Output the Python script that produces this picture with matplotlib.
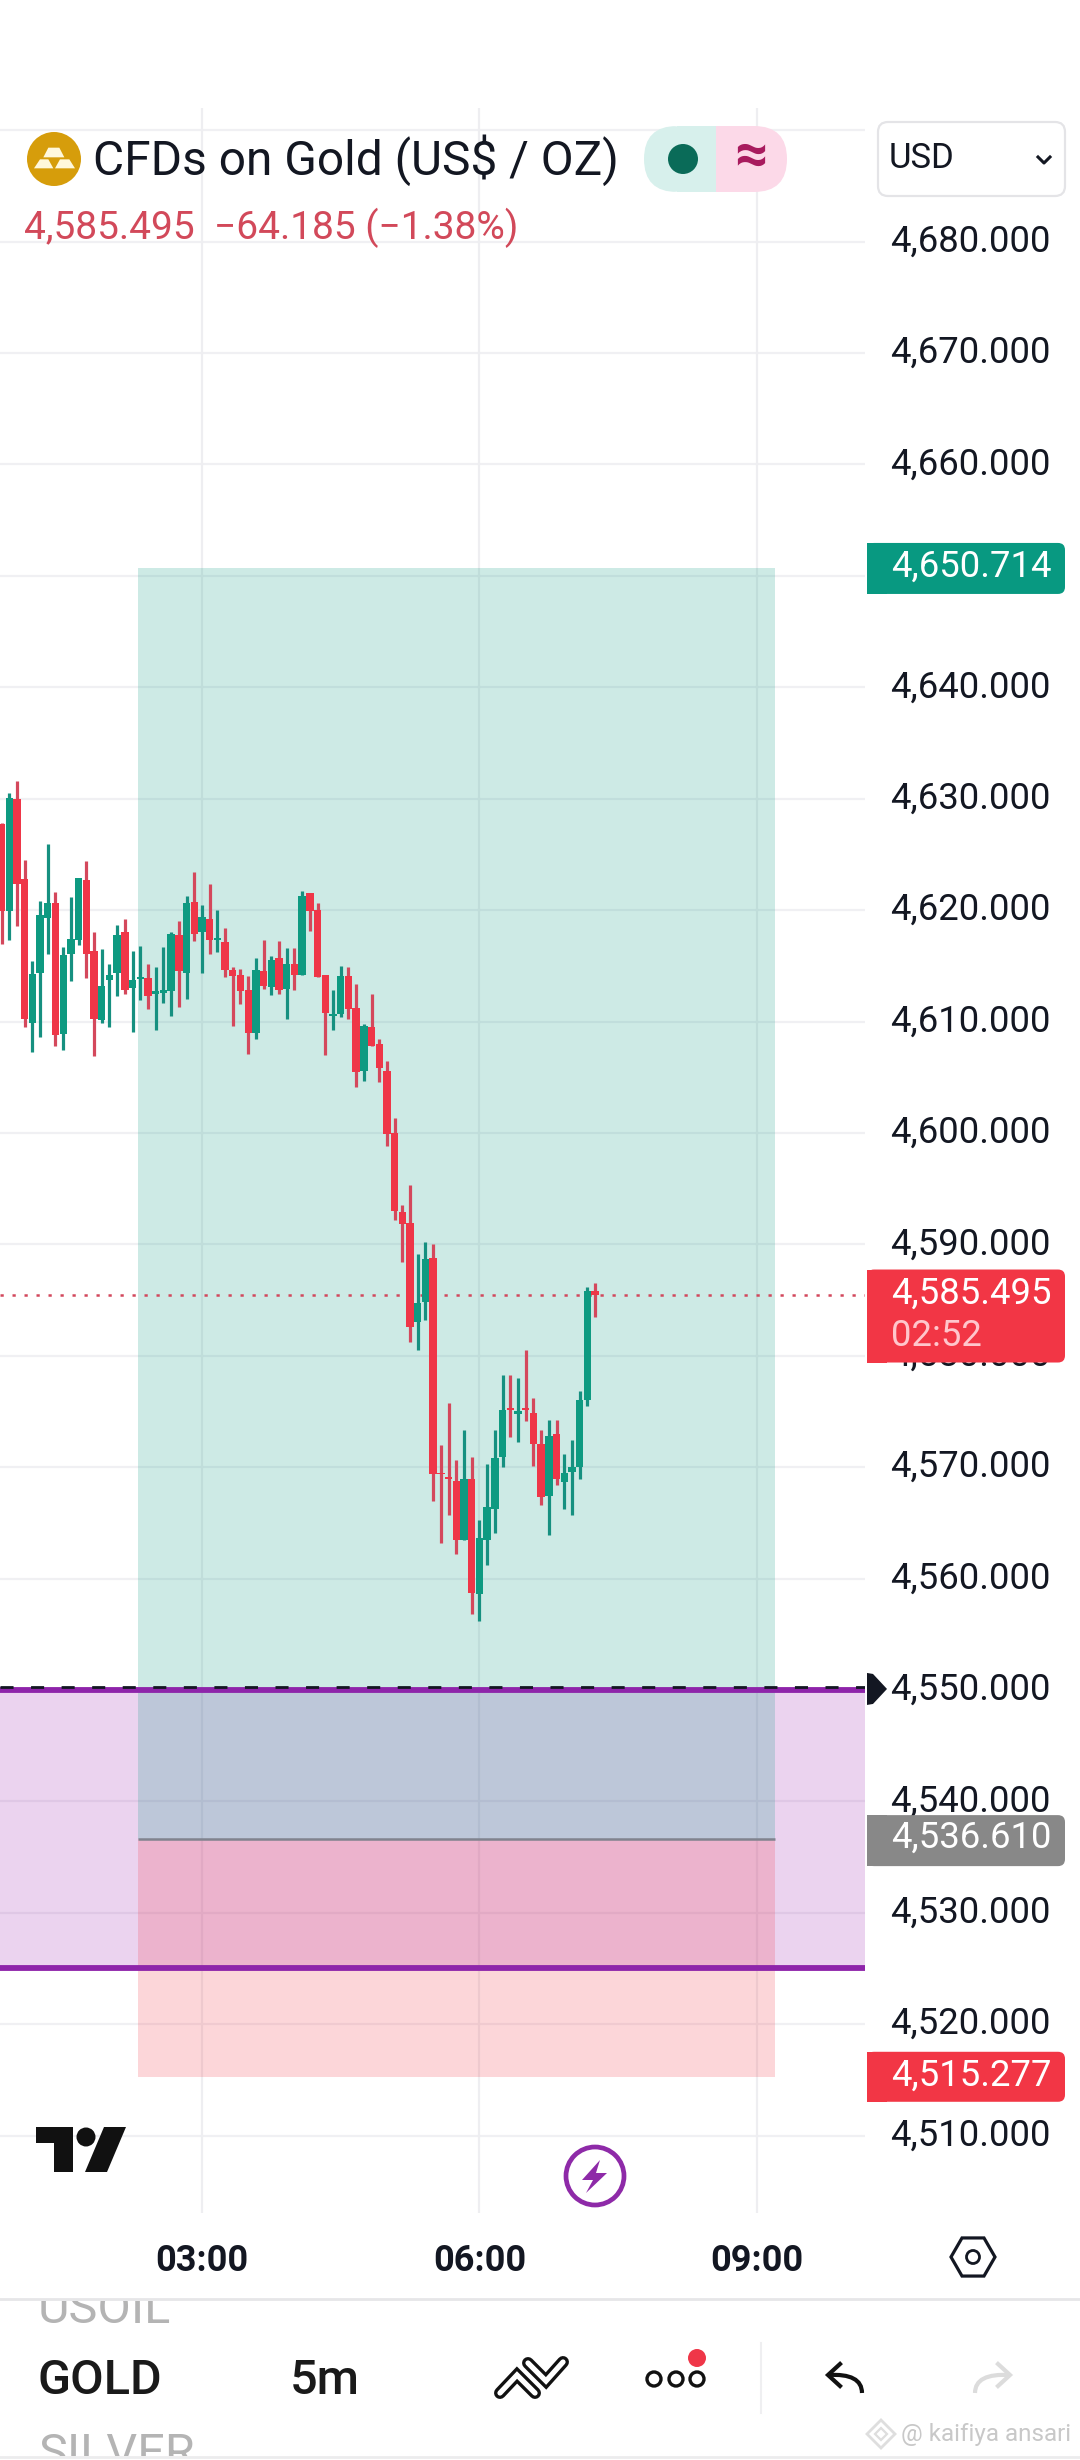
import numpy as np
import matplotlib
matplotlib.use('Agg')
import matplotlib.pyplot as plt
from matplotlib.patches import Circle, Ellipse, FancyBboxPatch, Polygon, Rectangle, RegularPolygon, PathPatch
from matplotlib.path import Path
from matplotlib.transforms import ScaledTranslation

plt.rcParams['font.family'] = ['Roboto', 'DejaVu Sans']

# 5 minute candles, first one is 00:50
start_minute = 50
opens = [4627.7, 4619.9, 4630.0, 4622.8, 4609.9, 4614.4, 4619.3, 4620.6, 4608.9, 4616.1, 4617.3, 4622.7, 4616.3,
         4610.1, 4613.7, 4614.4, 4618.0, 4613.0, 4613.8, 4613.9, 4612.5, 4612.6, 4612.7, 4617.8, 4614.4, 4620.7,
         4618.0, 4619.2, 4617.3, 4617.1, 4614.6, 4614.2, 4612.8, 4609.0, 4614.5, 4613.1, 4615.7, 4612.9, 4615.2,
         4614.2, 4621.5, 4620.0, 4614.2, 4610.5, 4610.7, 4614.1, 4611.2, 4605.6, 4609.5, 4608.0, 4605.6, 4600.0,
         4592.9, 4591.9, 4583.0, 4584.8, 4588.8, 4569.5, 4569.1, 4568.8, 4563.5, 4568.9, 4558.6, 4563.5, 4566.2,
         4570.9, 4575.3, 4574.8, 4575.3, 4574.9, 4572.1, 4567.4, 4573.0, 4568.7, 4569.6, 4570.0, 4576.0, 4585.8]
highs = [4627.8, 4630.5, 4631.6, 4624.5, 4615.4, 4620.8, 4625.9, 4621.6, 4616.7, 4621.2, 4622.9, 4624.4, 4618.0,
         4616.5, 4615.2, 4618.7, 4619.2, 4616.3, 4616.8, 4615.2, 4614.9, 4616.7, 4618.0, 4619.0, 4621.3, 4623.4,
         4620.5, 4622.3, 4620.0, 4618.4, 4614.9, 4614.7, 4614.1, 4615.7, 4617.3, 4615.9, 4617.2, 4616.6, 4616.6,
         4621.7, 4621.5, 4620.6, 4614.2, 4612.8, 4615.0, 4614.9, 4613.4, 4609.8, 4612.5, 4608.4, 4606.5, 4601.3,
         4593.5, 4595.3, 4589.1, 4590.2, 4590.0, 4572.0, 4575.8, 4570.6, 4573.3, 4570.9, 4565.3, 4570.3, 4573.3,
         4578.3, 4578.3, 4578.0, 4580.5, 4576.2, 4573.3, 4574.2, 4574.2, 4571.2, 4572.4, 4576.8, 4586.2, 4586.5]
lows = [4617.0, 4617.3, 4618.6, 4609.5, 4607.3, 4608.6, 4616.1, 4607.8, 4607.4, 4613.6, 4616.9, 4613.9, 4606.9,
        4609.9, 4609.5, 4612.3, 4612.5, 4609.1, 4611.9, 4611.1, 4609.2, 4611.7, 4610.5, 4611.3, 4612.0, 4617.2,
        4614.4, 4616.1, 4616.2, 4614.0, 4609.6, 4611.6, 4607.1, 4608.4, 4612.9, 4612.4, 4612.5, 4610.2, 4612.8,
        4614.2, 4618.1, 4614.0, 4607.0, 4609.2, 4610.4, 4610.2, 4604.1, 4604.7, 4607.8, 4604.6, 4598.8, 4592.2,
        4588.4, 4581.2, 4580.5, 4583.2, 4567.0, 4563.2, 4565.7, 4562.2, 4563.5, 4556.8, 4556.2, 4561.2, 4564.1,
        4570.0, 4572.7, 4572.3, 4574.1, 4570.1, 4566.6, 4563.9, 4568.4, 4566.2, 4565.7, 4568.9, 4575.5, 4583.5]
closes = [4619.9, 4630.1, 4622.3, 4610.2, 4614.3, 4619.6, 4620.6, 4608.8, 4616.0, 4617.4, 4622.9, 4616.1, 4610.2,
          4613.2, 4614.2, 4617.8, 4612.8, 4613.7, 4614.0, 4612.3, 4612.7, 4612.8, 4617.9, 4614.5, 4620.6, 4617.9,
          4619.4, 4617.3, 4617.5, 4614.6, 4614.1, 4612.7, 4609.0, 4614.6, 4613.2, 4615.5, 4612.8, 4615.2, 4614.2,
          4621.3, 4619.9, 4614.0, 4610.8, 4610.7, 4614.1, 4611.1, 4605.5, 4609.6, 4607.8, 4605.8, 4599.9, 4593.0,
          4591.8, 4582.6, 4584.7, 4588.7, 4569.4, 4569.4, 4568.9, 4563.5, 4568.9, 4558.7, 4563.6, 4566.4, 4570.8,
          4575.1, 4575.1, 4575.0, 4575.1, 4572.1, 4567.3, 4572.8, 4568.9, 4569.5, 4570.0, 4576.0, 4585.8, 4585.495]

price_ticks = list(range(4510, 4690, 10))
grid_prices = list(range(4510, 4700, 10))
time_ticks = [180, 360, 540]
time_labels = ['03:00', '06:00', '09:00']

last_price = 4585.495
target_price = 4650.714
entry_price = 4536.610
stop_price = 4515.277
zone_start, zone_end = 138.5, 551.7
band_top, band_bottom = 4550.0, 4525.0

UP = '#0e9a81'
DOWN = '#ef3648'
INK = '#131722'
PURPLE = '#9c27b0'
X0, X1 = 49.0, 610.1
Y0, Y1 = 4503.05, 4692.0

fig = plt.figure(figsize=(10.8, 24.6), dpi=100)
W, H = 1080, 2460
ax = fig.add_axes([0, (H - 2213) / H, 865 / W, (2213 - 108) / H])
ax.set_xlim(X0, X1)
ax.set_ylim(Y0, Y1)
for s in ax.spines.values():
    s.set_visible(False)

# grid
ax.hlines(grid_prices, X0, X1, color='#f0f0f3', lw=1.6, zorder=0.5)
ax.vlines(time_ticks, Y0, Y1, color='#eeeef1', lw=1.6, zorder=0.5)

# purple band + long/short position boxes
ax.axhspan(band_bottom, band_top, color=PURPLE, alpha=0.2, lw=0, zorder=1)
ax.fill_between([zone_start, zone_end], entry_price, target_price, color='#089981', alpha=0.2, lw=0, zorder=1.2)
ax.fill_between([zone_start, zone_end], stop_price, entry_price, color='#f23645', alpha=0.2, lw=0, zorder=1.2)
ax.hlines(entry_price, zone_start, zone_end, color='#80838e', lw=1.8, zorder=1.5)
ax.axhline(band_top, color='#8e24aa', lw=4.2, zorder=2)
ax.axhline(band_bottom, color='#8e24aa', lw=4.2, zorder=2)
ax.axhline(band_top + 0.25, color='#131722', lw=2.0, ls=(0, (4.7, 6.3)), zorder=2.2)
ax.axhline(last_price, color='#d2485c', lw=1.8, ls=(0, (1.3, 3.5)), zorder=2.5)

# candles
t = start_minute + np.arange(len(opens)) * 5
o, h, l, c = map(np.array, (opens, highs, lows, closes))
rising = c >= o
ax.vlines(t, l, h, colors=np.where(rising, '#169080', '#d4485c'), lw=2.3, zorder=3)
ax.bar(t, np.abs(c - o), bottom=np.minimum(o, c), width=4.8, color=np.where(rising, UP, DOWN), lw=0, zorder=3.1)

# axes labels
ax.yaxis.tick_right()
ax.set_yticks(grid_prices)
ax.set_yticklabels([f'{p:,.3f}' if p in price_ticks else '' for p in grid_prices], fontsize=26.3, color=INK)
ax.tick_params(axis='y', length=0, pad=18.2)
ax.set_xticks(time_ticks)
ax.set_xticklabels(time_labels, fontsize=26, color=INK, fontweight='bold')
ax.tick_params(axis='x', length=0, pad=21.5)
# labels sit a little above their gridline
lift = ScaledTranslation(0, 4 / 100, fig.dpi_scale_trans)
for lbl in ax.get_yticklabels():
    lbl.set_transform(lbl.get_transform() + lift)

# overlay in pixel coords for the app chrome
ov = fig.add_axes([0, 0, 1, 1], zorder=5)
ov.set_xlim(0, W)
ov.set_ylim(H, 0)
ov.axis('off')


def price_y(p):
    return H - ax.transData.transform((0, p))[1]


def price_box(p, above, below, color, label):
    y = price_y(p)
    ov.add_patch(FancyBboxPatch((873, y - above + 6), 186, above + below - 12, boxstyle='round,pad=6,rounding_size=7',
                                fc=color, ec='none'))
    ov.add_patch(Rectangle((867, y - above), 20, above + below, fc=color, ec='none'))
    ov.text(891, y - 1, label, fontsize=26.3, color='white', va='center')


price_box(target_price, 25, 26, '#089981', f'{target_price:,.3f}')
price_box(entry_price, 24, 27, '#888888', f'{entry_price:,.3f}')
price_box(stop_price, 25, 25, '#f23645', f'{stop_price:,.3f}')
price_box(last_price, 25, 68, '#f23645', f'{last_price:,.3f}')
ov.text(891, price_y(last_price) + 41, '02:52', fontsize=26.3, color='#ffc6cc', va='center')

# black marker at the alert level
y = price_y(band_top)
ov.add_patch(Polygon([(867, y - 17), (873, y - 16), (887, y - 1), (873, y + 14), (867, y + 15)], fc='#131722', ec='none'))

# header
ov.add_patch(Circle((54, 159), 27, fc='#d69d0b', ec='none'))
for bar in ([(85, 68), (118, 68), (133, 97), (70, 97)], [(60, 103), (85, 103), (100, 130), (42, 130)],
            [(120, 103), (148, 103), (165, 130), (105, 130)]):
    ov.add_patch(Polygon([(20 + a / 3, 125 + b / 3) for a, b in bar], fc='#fff8dc', ec='none'))
ov.text(93, 160, 'CFDs on Gold (US$ / OZ)', fontsize=34.5, color=INK, va='center')
ov.text(24, 228, '4,585.495', fontsize=28, color='#d2495a', va='center')
ov.text(214, 228, '−64.185 (−1.38%)', fontsize=28, color='#d2495a', va='center')

# market status pill
ov.add_patch(FancyBboxPatch((700, 126), 87, 66, boxstyle='round,pad=0,rounding_size=33', fc='#fcd9e8', ec='none'))
ov.add_patch(FancyBboxPatch((644, 126), 60, 66, boxstyle='round,pad=0,rounding_size=33', fc='#d7f0ec', ec='none'))
ov.add_patch(Rectangle((677, 126), 39, 66, fc='#d7f0ec', ec='none'))
ov.add_patch(Rectangle((716, 126), 30, 66, fc='#fcd9e8', ec='none'))
ov.add_patch(Ellipse((683, 159), 30, 30, fc='#0a6b58', ec='none'))
ov.text(751, 157, '≈', fontsize=42, fontweight='bold', color='#a81b5e', ha='center', va='center')

ov.add_patch(FancyBboxPatch((878, 122), 187, 74, boxstyle='round,pad=0,rounding_size=10', fc='white', ec='#e4e4e7', lw=1.6))
ov.text(889, 159, 'USD', fontsize=25, color=INK, va='center')
ov.plot([1038, 1044, 1050], [157, 163, 157], color=INK, lw=2.2)

# tradingview logo and the bolt badge
ov.add_patch(Polygon([(36, 2127), (73, 2127), (73, 2172), (54, 2172), (54, 2143), (36, 2143)], fc='#111111', ec='none'))
ov.add_patch(Circle((86, 2137), 9.5, fc='#111111', ec='none'))
ov.add_patch(Polygon([(104, 2127), (126, 2127), (107, 2172), (85, 2172)], fc='#111111', ec='none'))
ov.add_patch(Circle((595, 2176), 29, fc='white', ec='#8e2aa8', lw=3.4))
ov.add_patch(Polygon([(600, 2160), (582, 2180), (593, 2180), (586, 2193), (607, 2173), (596, 2173)], fc='#8e2aa8', ec='none'))

# settings hexagon
ov.add_patch(RegularPolygon((973, 2257), 6, radius=22, orientation=np.pi / 6, fc='none', ec='#131722', lw=2.3))
ov.add_patch(Circle((973, 2257), 6.5, fc='none', ec='#131722', lw=2.0))

# bottom toolbar, the symbol list is scrolled so its neighbours are cut
ov.plot([0, W], [2299, 2299], color='#e6e6e8', lw=2)
ov.plot([0, W], [2457, 2457], color='#ececee', lw=2)
usoil = ov.text(38, 2323, 'USOIL', fontsize=35, color='#b4b4b4', va='baseline')
usoil.set_clip_path(Rectangle((0, 2301), W, 40, transform=ov.transData))
usoil.set_clip_on(True)
silver = ov.text(38, 2468, 'SILVER', fontsize=35, color='#b4b4b4', va='baseline')
silver.set_clip_path(Rectangle((0, 2420), W, 36, transform=ov.transData))
silver.set_clip_on(True)
ov.text(38, 2381, 'GOLD', fontsize=35, color='#1a1a1a', va='center', fontweight='medium')
ov.text(290, 2381, '5m', fontsize=35, color='#1a1a1a', va='center', fontweight='medium')

for pts in ([(500, 2393), (517, 2375), (535, 2393)], [(528, 2363), (546, 2381), (563, 2362)]):
    xs, ys = zip(*pts)
    ov.plot(xs, ys, color='#111111', lw=8.6, solid_capstyle='round', solid_joinstyle='miter')
    ov.plot(xs, ys, color='white', lw=3.8, solid_capstyle='round', solid_joinstyle='miter')
for x0 in (654, 676, 697):
    ov.add_patch(Circle((x0, 2379), 7, fc='white', ec='#111111', lw=2.4))
ov.add_patch(Circle((697, 2358), 11, fc='white', ec='none'))
ov.add_patch(Circle((697, 2358), 9, fc='#ef3648', ec='none'))
ov.plot([761, 761], [2343, 2413], color='#efeff1', lw=1.5)

ov.plot([840, 828, 840], [2364, 2375, 2386], color='#111111', lw=3, solid_joinstyle='miter')
ov.add_patch(PathPatch(Path([(828, 2375), (862, 2373), (862, 2393)], [Path.MOVETO, Path.CURVE3, Path.CURVE3]), fc='none', ec='#111111', lw=3))
ov.plot([998, 1010, 998], [2364, 2375, 2386], color='#dcdcdc', lw=3, solid_joinstyle='miter')
ov.add_patch(PathPatch(Path([(1010, 2375), (975, 2373), (975, 2393)], [Path.MOVETO, Path.CURVE3, Path.CURVE3]), fc='none', ec='#dcdcdc', lw=3))

# watermark
ov.add_patch(RegularPolygon((881, 2434), 4, radius=14, fc='none', ec='#dedede', lw=2))
ov.add_patch(RegularPolygon((881, 2434), 4, radius=6, fc='none', ec='#dedede', lw=1.6))
ov.text(901, 2435, '@ kaifiya ansari', fontsize=17.5, color='#c8c8c8', va='center')

fig.savefig('out.png', dpi=100)
